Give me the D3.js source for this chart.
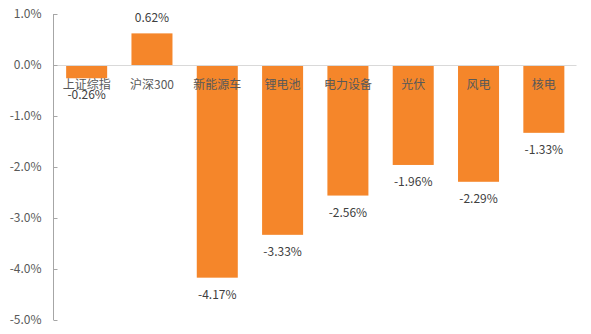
<!DOCTYPE html>
<html>
<head>
<meta charset="utf-8">
<script src="https://cdn.jsdelivr.net/npm/d3@7"></script>
<style>
  html, body { margin: 0; padding: 0; background: #fff; }
  svg { display: block; }
  text { font-family: "Noto Sans CJK SC", "Noto Sans", sans-serif; }
</style>
</head>
<body>
<svg id="chart" width="591" height="334"></svg>
<script>
// Sector returns (%)
const categories = ["上证综指", "沪深300", "新能源车", "锂电池", "电力设备", "光伏", "风电", "核电"];
const values = [-0.26, 0.62, -4.17, -3.33, -2.56, -1.96, -2.29, -1.33];
const yTicks = [1, 0, -1, -2, -3, -4, -5];

const svg = d3.select("#chart");
const margin = { left: 54, right: 14.5, top: 14, bottom: 14 };
const W = 591, H = 334;

const x = d3.scaleBand()
  .domain(categories)
  .range([margin.left, W - margin.right])
  .paddingInner(0.372)
  .paddingOuter(0.186);

const y = d3.scaleLinear()
  .domain([-5, 1])
  .range([H - margin.bottom, margin.top]);

const gray = "#595959";
const barColor = "#F5862A";

// Bars
svg.append("g").selectAll("rect")
  .data(values)
  .join("rect")
  .attr("x", (d, i) => x(categories[i]))
  .attr("width", x.bandwidth())
  .attr("y", d => y(Math.max(0, d)))
  .attr("height", d => Math.abs(y(d) - y(0)))
  .attr("fill", barColor);

// Zero baseline
svg.append("line")
  .attr("x1", margin.left).attr("x2", W - margin.right)
  .attr("y1", y(0) + 0.5).attr("y2", y(0) + 0.5)
  .attr("stroke", "#d9d9d9").attr("stroke-width", 1);

// Y axis with inward ticks
const yAxis = d3.axisRight(y)
  .tickValues(yTicks)
  .tickSize(4)
  .tickFormat(d => d.toFixed(1) + "%");
const ga = svg.append("g")
  .attr("transform", `translate(${margin.left - 0.5},0)`)
  .call(yAxis);
ga.select(".domain").attr("stroke", "#a6a6a6").attr("d", `M0,${y(1)}V${y(-5)}`);
ga.selectAll(".tick line").attr("stroke", "#a6a6a6");
ga.selectAll(".tick text")
  .attr("x", -12)
  .attr("text-anchor", "end")
  .attr("fill", gray)
  .attr("font-size", 12)
  .style("font-family", '"Noto Sans CJK SC", sans-serif');

// Category labels just below the baseline
svg.append("g").selectAll("text")
  .data(categories)
  .join("text")
  .attr("x", d => x(d) + x.bandwidth() / 2)
  .attr("y", y(0) + 24)
  .attr("text-anchor", "middle")
  .attr("font-size", 12)
  .attr("fill", gray)
  .text(d => d);

// Value labels
svg.append("g").selectAll("text")
  .data(values)
  .join("text")
  .attr("x", (d, i) => x(categories[i]) + x.bandwidth() / 2)
  .attr("y", d => d >= 0 ? y(d) - 11 : y(d) + 21)
  .attr("text-anchor", "middle")
  .attr("font-size", 12)
  .attr("fill", "#404040")
  .text(d => d.toFixed(2) + "%");
</script>
</body>
</html>
